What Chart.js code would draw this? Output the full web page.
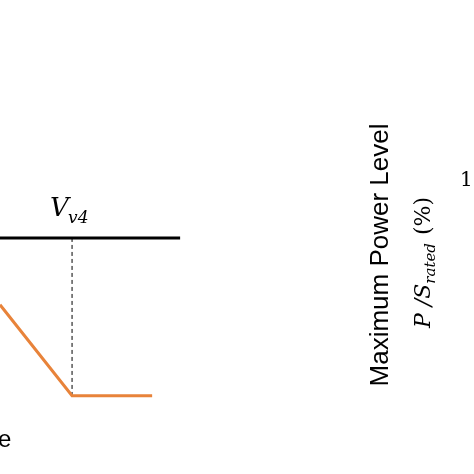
<!DOCTYPE html><html><head><style>html,body{margin:0;padding:0;background:#fff}</style>
<script src="https://cdn.jsdelivr.net/npm/chart.js"></script></head><body>
<canvas id="c" width="474" height="474" style="width:474px;height:474px;display:block"></canvas>
<script>
const voltage=[0,15.2,32.1];
const power=[35.7,16.5,16.5];
const limitX=[0,38];
const limitY=[49.8,49.8];
const vv4=15.2;
const textPlugin={id:'t',afterDraw(ch){const c=ch.ctx,x=ch.scales.x,y=ch.scales.y;
c.save();c.fillStyle='#000';
c.font='italic 26px "DejaVu Serif", serif';c.textBaseline='alphabetic';
c.fillText('V',x.getPixelForValue(vv4)-22,y.getPixelForValue(54.5));
c.font='italic 17px "DejaVu Serif", serif';c.fillText('v4',x.getPixelForValue(vv4)-4,y.getPixelForValue(53));
c.font='24px "Liberation Sans", Arial';c.fillText('e',-2,447);
c.font='20px "DejaVu Serif", serif';c.fillText('1',460,186);
c.translate(388,255);c.rotate(-Math.PI/2);c.textAlign='center';
c.font='26px "Liberation Sans", Arial';c.fillText('Maximum Power Level',0,0);
c.restore();c.save();c.translate(430,250);c.rotate(-Math.PI/2);c.textAlign='left';
c.font='italic 22px "DejaVu Serif", serif';let s=-78;c.fillText('P /S',s,0);s+=c.measureText('P /S').width;
c.font='italic 15px "DejaVu Serif", serif';c.fillText('rated',s,5);s+=c.measureText('rated').width+8;
c.font='22px "DejaVu Serif", serif';c.fillText('(%)',s,0);
c.restore();}};
new Chart(document.getElementById('c'),{type:'scatter',data:{datasets:[
{data:voltage.map((v,i)=>({x:v,y:power[i]})),showLine:true,borderColor:'#E8833A',borderWidth:3,pointRadius:0},
{data:limitX.map((v,i)=>({x:v,y:limitY[i]})),showLine:true,borderColor:'#000',borderWidth:3,pointRadius:0},
{data:[{x:vv4,y:49.8},{x:vv4,y:16.5}],showLine:true,borderColor:'#000',borderWidth:1,borderDash:[4,3],pointRadius:0}
]},options:{responsive:false,devicePixelRatio:1,animation:false,layout:{padding:0},plugins:{legend:{display:false},tooltip:{enabled:false}},
scales:{x:{type:'linear',min:0,max:100,display:false},y:{min:0,max:100,display:false}}},plugins:[textPlugin]});
</script></body></html>
